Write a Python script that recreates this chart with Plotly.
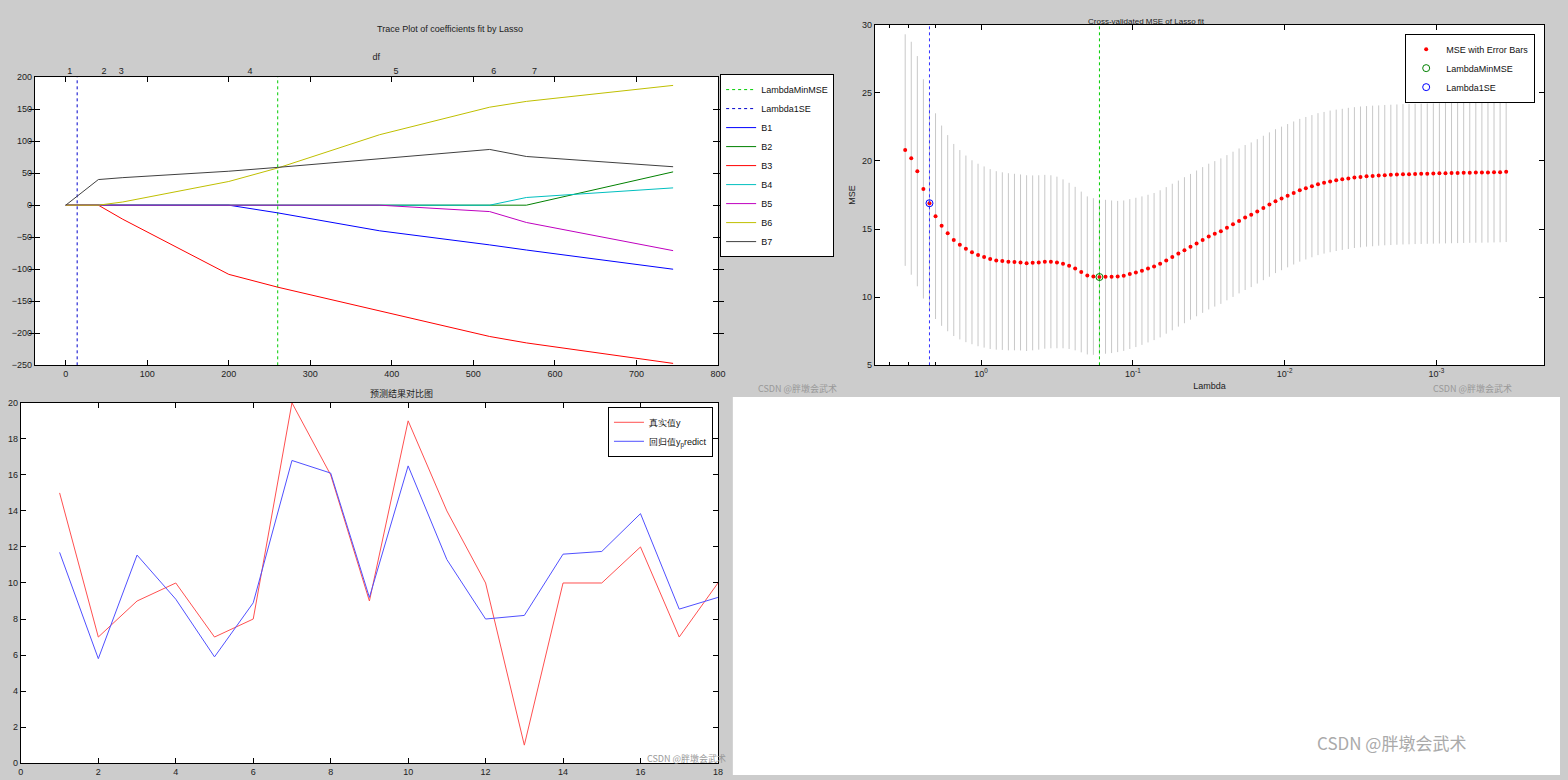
import plotly.graph_objects as go

W, H = 1568, 780
# ---- trace plot data ----
knots = [0, 40, 70, 200, 260, 385, 520, 565, 745]
B1 = [0, 0, 0, 0, -12, -40, -62, -70, -100]
B2 = [0, 0, 0, 0, 0, 0, 0, 0, 52]
B3 = [0, 0, -22, -108, -128, -165, -205, -215, -247]
B4 = [0, 0, 0, 0, 0, 0, 0, 12, 27]
B5 = [0, 0, 0, 0, 0, 0, -10, -27, -71]
B6 = [0, 0, 5, 37, 58, 110, 153, 162, 187]
B7 = [0, 40, 43, 53, 59, 73, 87, 76, 60]
df_pos = [5, 47, 68, 226, 405, 525, 575]
df_lab = ["1", "2", "3", "4", "5", "6", "7"]
lambda_min_x = 260
lambda_1se_x = 14

# ---- CV MSE data ----
log_lambda = [0.50, 0.46, 0.42, 0.38, 0.34, 0.30, 0.26, 0.22, 0.18, 0.14,
              0.10, 0.06, 0.02, -0.02, -0.06, -0.10, -0.14, -0.18, -0.22, -0.26,
              -0.30, -0.34, -0.38, -0.42, -0.46, -0.50, -0.54, -0.58, -0.62, -0.66,
              -0.70, -0.74, -0.78, -0.82, -0.86, -0.90, -0.94, -0.98, -1.02, -1.06,
              -1.10, -1.14, -1.18, -1.22, -1.26, -1.30, -1.34, -1.38, -1.42, -1.46,
              -1.50, -1.54, -1.58, -1.62, -1.66, -1.70, -1.74, -1.78, -1.82, -1.86,
              -1.90, -1.94, -1.98, -2.02, -2.06, -2.10, -2.14, -2.18, -2.22, -2.26,
              -2.30, -2.34, -2.38, -2.42, -2.46, -2.50, -2.54, -2.58, -2.62, -2.66,
              -2.70, -2.74, -2.78, -2.82, -2.86, -2.90, -2.94, -2.98, -3.02, -3.06,
              -3.10, -3.14, -3.18, -3.22, -3.26, -3.30, -3.34, -3.38, -3.42, -3.46]
mse = [20.8, 20.2, 19.25, 17.95, 16.9, 15.95, 15.25, 14.7, 14.2, 13.85,
       13.55, 13.3, 13.1, 12.95, 12.8, 12.7, 12.65, 12.6, 12.58, 12.55,
       12.5, 12.52, 12.55, 12.6, 12.6, 12.55, 12.45, 12.3, 12.1, 11.85,
       11.6, 11.52, 11.48, 11.5, 11.5, 11.52, 11.58, 11.7, 11.82, 11.95,
       12.1, 12.25, 12.45, 12.7, 12.95, 13.2, 13.45, 13.7, 13.95, 14.2,
       14.45, 14.65, 14.85, 15.1, 15.35, 15.6, 15.85, 16.05, 16.3, 16.55,
       16.8, 17.05, 17.25, 17.45, 17.65, 17.85, 18.0, 18.15, 18.3, 18.4,
       18.5, 18.58, 18.65, 18.72, 18.78, 18.83, 18.87, 18.9, 18.93, 18.96,
       18.98, 19.0, 19.02, 19.03, 19.05, 19.06, 19.07, 19.08, 19.09, 19.1,
       19.11, 19.12, 19.13, 19.14, 19.15, 19.15, 19.16, 19.17, 19.18, 19.2]
se = [8.5, 8.55, 8.45, 8.05, 7.7, 7.55, 7.35, 7.2, 7.05, 6.95,
      6.85, 6.75, 6.7, 6.65, 6.6, 6.55, 6.52, 6.5, 6.48, 6.46,
      6.45, 6.42, 6.4, 6.38, 6.35, 6.3, 6.2, 6.1, 6.0, 5.9,
      5.8, 5.75, 5.7, 5.65, 5.6, 5.55, 5.52, 5.5, 5.48, 5.45,
      5.42, 5.4, 5.4, 5.38, 5.38, 5.36, 5.36, 5.35, 5.35, 5.35,
      5.35, 5.34, 5.34, 5.33, 5.33, 5.32, 5.32, 5.31, 5.3, 5.3,
      5.3, 5.28, 5.27, 5.26, 5.25, 5.24, 5.23, 5.22, 5.21, 5.2,
      5.2, 5.19, 5.18, 5.18, 5.17, 5.17, 5.16, 5.16, 5.15, 5.15,
      5.15, 5.15, 5.15, 5.15, 5.15, 5.15, 5.15, 5.15, 5.15, 5.15,
      5.15, 5.15, 5.15, 5.15, 5.15, 5.15, 5.15, 5.15, 5.15, 5.15]
idx_min = 32
idx_1se = 4

# ---- prediction data ----
sample = list(range(1, 19))
y_true = [15, 7, 9, 10, 7, 8, 20, 16, 9, 19, 14, 10, 1, 10, 10, 12, 7, 10]
y_pred = [11.7, 5.8, 11.55, 9.1, 5.9, 8.9, 16.8, 16.1, 9.2, 16.5, 11.3, 8.0, 8.2, 11.6, 11.75, 13.85, 8.55, 9.2]

lam = [10 ** v for v in log_lambda]

def dx(a, b): return [a / W, b / W]
def dy(top, bot): return [1 - bot / H, 1 - top / H]

FONT = dict(family="Liberation Sans, Arial", size=9, color="#222")
fig = go.Figure()

# Plot 1
cols = {"B1": "#0000ff", "B2": "#008000", "B3": "#ff0000", "B4": "#00bfbf",
        "B5": "#bf00bf", "B6": "#bfbf00", "B7": "#404040"}
fig.add_trace(go.Scatter(x=[lambda_min_x] * 2, y=[-250, 200], mode="lines", name="LambdaMinMSE",
                         line=dict(color="#00cc00", dash="dot", width=1), xaxis="x", yaxis="y", legend="legend"))
fig.add_trace(go.Scatter(x=[lambda_1se_x] * 2, y=[-250, 200], mode="lines", name="Lambda1SE",
                         line=dict(color="#0000cc", dash="dot", width=1), xaxis="x", yaxis="y", legend="legend"))
for n, v in zip(cols, [B1, B2, B3, B4, B5, B6, B7]):
    fig.add_trace(go.Scatter(x=knots, y=v, mode="lines", name=n, line=dict(color=cols[n], width=1),
                             xaxis="x", yaxis="y", legend="legend"))
fig.add_trace(go.Scatter(x=df_pos, y=[0] * len(df_pos), mode="markers", marker=dict(opacity=0),
                         showlegend=False, hoverinfo="skip", xaxis="x4", yaxis="y"))

# Plot 2
fig.add_trace(go.Scatter(x=lam, y=mse, mode="markers", name="MSE with Error Bars",
                         marker=dict(color="red", size=4),
                         error_y=dict(type="data", array=se, color="#c8c8c8", thickness=1, width=0),
                         xaxis="x2", yaxis="y2", legend="legend2"))
fig.add_trace(go.Scatter(x=[lam[idx_min]] * 2, y=[5, 30], mode="lines", showlegend=False,
                         line=dict(color="#00cc00", dash="dot", width=1), xaxis="x2", yaxis="y2"))
fig.add_trace(go.Scatter(x=[lam[idx_1se]] * 2, y=[5, 30], mode="lines", showlegend=False,
                         line=dict(color="#3333ff", dash="dot", width=1), xaxis="x2", yaxis="y2"))
fig.add_trace(go.Scatter(x=[lam[idx_min]], y=[mse[idx_min]], mode="markers", name="LambdaMinMSE",
                         marker=dict(color="green", size=7, symbol="circle-open"),
                         xaxis="x2", yaxis="y2", legend="legend2"))
fig.add_trace(go.Scatter(x=[lam[idx_1se]], y=[mse[idx_1se]], mode="markers", name="Lambda1SE",
                         marker=dict(color="blue", size=7, symbol="circle-open"),
                         xaxis="x2", yaxis="y2", legend="legend2"))

# Plot 3
fig.add_trace(go.Scatter(x=sample, y=y_true, mode="lines", name="真实值y",
                         line=dict(color="#ff5050", width=1), xaxis="x3", yaxis="y3", legend="legend3"))
fig.add_trace(go.Scatter(x=sample, y=y_pred, mode="lines", name="回归值y<sub>p</sub>redict",
                         line=dict(color="#5050ff", width=1), xaxis="x3", yaxis="y3", legend="legend3"))

ax = dict(showgrid=False, zeroline=False, showline=True, linecolor="black", mirror="allticks",
          ticks="inside", ticklen=5, tickcolor="black", tickfont=FONT)
leg = dict(bgcolor="white", bordercolor="black", borderwidth=1, font=dict(family="Liberation Sans, Arial", size=9, color="#111"),
           xanchor="right", yanchor="top", tracegroupgap=0, itemwidth=30)

fig.update_layout(
    width=W, height=H, margin=dict(l=0, r=0, t=0, b=0),
    paper_bgcolor="#cccccc", plot_bgcolor="white", showlegend=True,
    xaxis=dict(ax, domain=dx(32, 720), range=[-38, 800], tickvals=[0, 100, 200, 300, 400, 500, 600, 700, 800], anchor="y"),
    yaxis=dict(ax, domain=dy(73, 365), range=[-250, 200], dtick=50, anchor="x"),
    xaxis4=dict(overlaying="x", side="top", range=[-38, 800], tickmode="array", tickvals=df_pos, ticktext=df_lab,
                showgrid=False, zeroline=False, showline=False, ticks="", tickfont=FONT, anchor="y",
                title=dict(text="df", font=FONT, standoff=4)),
    xaxis2=dict(ax, domain=dx(878, 1552), type="log", range=[0.70, -3.71], anchor="y2",
                tickvals=[1, 0.1, 0.01, 0.001], ticktext=["10<sup>0</sup>", "10<sup>-1</sup>", "10<sup>-2</sup>", "10<sup>-3</sup>"],
                minor=dict(ticks="inside", ticklen=3, tickcolor="black"),
                title=dict(text="Lambda", font=FONT, standoff=4)),
    yaxis2=dict(ax, domain=dy(20, 365), range=[5, 30], dtick=5, anchor="x2",
                title=dict(text="MSE", font=FONT, standoff=4)),
    xaxis3=dict(ax, domain=dx(18, 720), range=[0, 18], dtick=2, anchor="y3"),
    yaxis3=dict(ax, domain=dy(403, 768), range=[0, 20], dtick=2, anchor="x3"),
    legend=dict(leg, x=837 / W, y=1 - 70 / H),
    legend2=dict(leg, x=1543 / W, y=1 - 29 / H),
    legend3=dict(leg, x=715 / W, y=1 - 407 / H),
    shapes=[dict(type="rect", xref="paper", yref="paper", x0=735 / W, x1=1, y0=0, y1=1 - 397 / H,
                 fillcolor="white", line=dict(width=0), layer="below")],
    annotations=[
        dict(text="Trace Plot of coefficients fit by Lasso", x=375 / W, y=1 - 17 / H, xref="paper", yref="paper", showarrow=False, font=FONT),
        dict(text="Cross-validated MSE of Lasso fit", x=1213 / W, y=1 - 10 / H, xref="paper", yref="paper", showarrow=False, font=dict(FONT, size=8)),
        dict(text="预测结果对比图", x=368 / W, y=1 - 394 / H, xref="paper", yref="paper", showarrow=False, font=dict(FONT, family="Noto Sans CJK SC")),
        dict(text="CSDN @胖墩会武术", x=1475 / W, y=1 - 762 / H, xref="paper", yref="paper", showarrow=False,
             font=dict(family="Noto Sans CJK SC", size=17, color="#aaaaaa")),
        dict(text="CSDN @胖墩会武术", x=800 / W, y=1 - 388 / H, xref="paper", yref="paper", showarrow=False,
             font=dict(family="Noto Sans CJK SC", size=9, color="#999999")),
        dict(text="CSDN @胖墩会武术", x=1522 / W, y=1 - 388 / H, xref="paper", yref="paper", showarrow=False,
             font=dict(family="Noto Sans CJK SC", size=9, color="#999999")),
        dict(text="CSDN @胖墩会武术", x=688 / W, y=1 - 772 / H, xref="paper", yref="paper", showarrow=False,
             font=dict(family="Noto Sans CJK SC", size=9, color="#999999")),
    ],
)
fig.write_html("out.html", config={"displayModeBar": False},
               post_script="document.body.style.margin='0';document.body.style.overflow='hidden';document.body.style.background='white';")
